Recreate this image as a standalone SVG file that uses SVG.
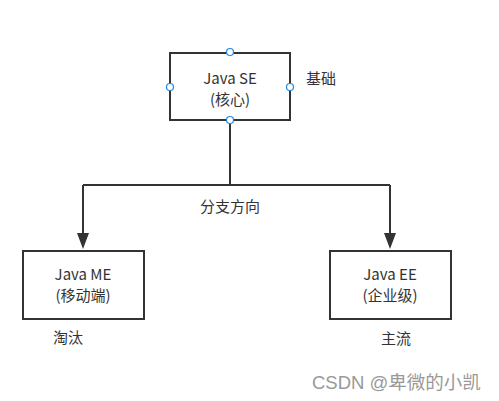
<svg xmlns="http://www.w3.org/2000/svg" width="499" height="401" viewBox="0 0 499 401">
<style>
text{font-family:"Noto Sans CJK SC","Noto Sans",sans-serif;font-size:15px;fill:#333}
.box{fill:#fff;stroke:#333;stroke-width:2}
.h{fill:#fff;stroke:#1e88e5;stroke-width:1.2}
.c{fill:none;stroke:#333;stroke-width:2}
</style>
<rect width="499" height="401" fill="#fff"/>
<g id="connectors">
<path class="c" d="M230,120 V185"/>
<path class="c" d="M83,185 H390"/>
<path class="c" d="M83,185 V233"/>
<path class="c" d="M390,185 V233"/>
<path d="M77,233 L89,233 L83,249 Z" fill="#333"/>
<path d="M384,233 L396,233 L390,249 Z" fill="#333"/>
<text x="230" y="212" text-anchor="middle">分支方向</text>
</g>
<g id="se">
<rect class="box" x="170" y="53" width="120" height="67"/>
<text x="230" y="84" text-anchor="middle">Java SE</text>
<text x="230" y="105" text-anchor="middle">(核心)</text>
<circle class="h" cx="230" cy="52" r="3.5"/>
<circle class="h" cx="170" cy="87" r="3.5"/>
<circle class="h" cx="290" cy="87" r="3.5"/>
<circle class="h" cx="230" cy="120" r="3.5"/>
</g>
<g id="jichu"><text x="306" y="84">基础</text></g>
<g id="me">
<rect class="box" x="23" y="251" width="121" height="68"/>
<text x="83" y="280" text-anchor="middle">Java ME</text>
<text x="83" y="301" text-anchor="middle">(移动端)</text>
</g>
<g id="taotai"><text x="53" y="343">淘汰</text></g>
<g id="ee">
<rect class="box" x="330" y="251" width="121" height="68"/>
<text x="390" y="280" text-anchor="middle">Java EE</text>
<text x="390" y="301" text-anchor="middle">(企业级)</text>
</g>
<g id="zhuliu"><text x="381" y="344">主流</text></g>
<text x="312" y="389" style="fill:#999;font-size:18.5px;font-family:'Liberation Sans','Noto Sans CJK SC',sans-serif">CSDN @卑微的小凯</text>
</svg>
